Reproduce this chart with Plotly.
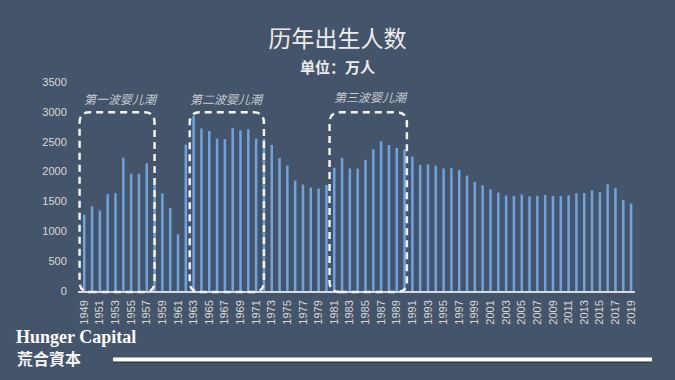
import plotly.graph_objects as go

years = list(range(1949, 2020))
births = [1275, 1419, 1349, 1622, 1637, 2232, 1965, 1961, 2138, 1889,
          1635, 1389, 949, 2451, 2934, 2721, 2679, 2554, 2543, 2731,
          2690, 2710, 2551, 2550, 2447, 2226, 2102, 1849, 1783, 1733,
          1715, 1776, 2064, 2230, 2052, 2050, 2196, 2374, 2508, 2445,
          2396, 2374, 2250, 2113, 2120, 2098, 2052, 2057, 2028, 1934,
          1827, 1771, 1702, 1647, 1599, 1593, 1617, 1585, 1595, 1608,
          1591, 1592, 1604, 1635, 1640, 1687, 1655, 1786, 1723, 1523, 1465]
tick_years = list(range(1949, 2020, 2))
y_ticks = [0, 500, 1000, 1500, 2000, 2500, 3000, 3500]

waves = ["第一波婴儿潮", "第二波婴儿潮", "第三波婴儿潮"]
wave_spans = [(1948.4, 1958.0), (1962.5, 1972.0), (1980.4, 1990.3)]
label_x = [1953.7, 1967.3, 1985.7]
label_y = [0.919, 0.919, 0.931]

BG = "#44546A"
L, R = 78, 40
PW = 675 - L - R


def px_x(p):
    return (p - L) / PW


fig = go.Figure()
fig.add_trace(go.Bar(x=years, y=births, width=0.32,
                     marker=dict(color="#6FA3DE", line=dict(width=0))))


def rounded(x0, x1, y0, y1, rx, ry):
    return (f"M {x0+rx},{y0} L {x1-rx},{y0} Q {x1},{y0} {x1},{y0+ry} "
            f"L {x1},{y1-ry} Q {x1},{y1} {x1-rx},{y1} L {x0+rx},{y1} "
            f"Q {x0},{y1} {x0},{y1-ry} L {x0},{y0+ry} Q {x0},{y0} {x0+rx},{y0} Z")


shapes = []
annotations = []
for name, (a, b), lx, ly in zip(waves, wave_spans, label_x, label_y):
    shapes.append(dict(type="path", xref="x", yref="paper",
                       path=rounded(a, b, -0.005, 0.855, 1.3, 0.05),
                       line=dict(color="#F2F2F2", width=2.5, dash="7px,5px")))
    annotations.append(dict(text=f"<i>{name}</i>", x=lx, y=ly,
                            xref="x", yref="paper", showarrow=False,
                            yanchor="middle",
                            font=dict(size=12, color="#C8CCD2",
                                      family="Noto Sans CJK SC")))

annotations.append(dict(text="<b>单位：万人</b>", x=px_x(337), y=1.075,
                        xref="paper", yref="paper", showarrow=False,
                        yanchor="middle",
                        font=dict(size=15, color="#EDEDED",
                                  family="Noto Sans CJK SC")))
annotations.append(dict(text="<b>Hunger Capital</b>", x=px_x(14), y=-0.22,
                        xref="paper", yref="paper", xanchor="left",
                        yanchor="middle", showarrow=False,
                        font=dict(size=18, color="#FFFFFF",
                                  family="Liberation Serif")))
annotations.append(dict(text="<b>荒合資本</b>", x=px_x(15), y=-0.32,
                        xref="paper", yref="paper", xanchor="left",
                        yanchor="middle", showarrow=False,
                        font=dict(size=16, color="#F4F4F4",
                                  family="Noto Sans CJK TC")))
shapes.append(dict(type="line", xref="paper", yref="paper",
                   x0=px_x(113), x1=px_x(652), y0=-0.337, y1=-0.337,
                   line=dict(color="#2F3A4A", width=3)))
shapes.append(dict(type="line", xref="paper", yref="paper",
                   x0=px_x(113), x1=px_x(652), y0=-0.328, y1=-0.328,
                   line=dict(color="#FFFFFF", width=4)))

fig.update_layout(
    width=675, height=380,
    paper_bgcolor=BG, plot_bgcolor=BG,
    margin=dict(l=L, r=R, t=82, b=89),
    showlegend=False,
    title=dict(text="历年出生人数", x=0.5, xanchor="center", y=1 - 38.5 / 380,
               yanchor="middle",
               font=dict(size=23, color="#EDEDED", family="Noto Sans CJK SC")),
    xaxis=dict(range=[1948.2, 2019.5], tickmode="array", tickvals=tick_years,
               ticktext=[str(y) for y in tick_years], tickangle=-90,
               showgrid=False, zeroline=False, showline=True,
               linecolor="#D9D9D9", linewidth=1.5, ticks="outside",
               ticklen=3, tickcolor=BG,
               tickfont=dict(size=11, color="#D9D9D9",
                             family="Liberation Sans")),
    yaxis=dict(range=[0, 3500], tickmode="array", tickvals=y_ticks,
               showgrid=False, zeroline=False, showline=False,
               ticks="outside", ticklen=8, tickcolor=BG,
               tickfont=dict(size=11, color="#D9D9D9",
                             family="Liberation Sans")),
    shapes=shapes, annotations=annotations,
)

fig.write_html("out.html")
